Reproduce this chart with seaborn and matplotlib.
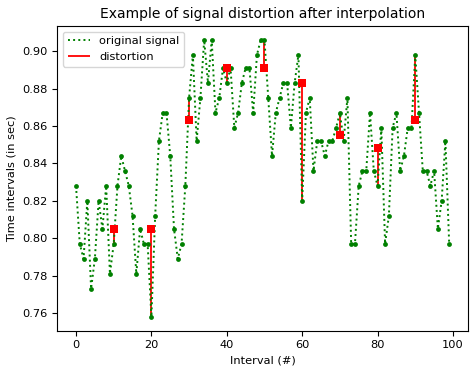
import numpy as np
import pandas as pd
import matplotlib
matplotlib.use("Agg")
import matplotlib.pyplot as plt
import seaborn as sns

# Señal original (intervalos de tiempo en segundos)
signal = [0.828, 0.797, 0.789, 0.820, 0.773, 0.789, 0.820, 0.805, 0.828, 0.781,
          0.797, 0.828, 0.844, 0.836, 0.828, 0.812, 0.781, 0.805, 0.797, 0.797,
          0.758, 0.812, 0.852, 0.867, 0.867, 0.844, 0.805, 0.789, 0.797, 0.828,
          0.875, 0.898, 0.852, 0.875, 0.906, 0.883, 0.906, 0.867, 0.875, 0.891,
          0.883, 0.891, 0.859, 0.867, 0.883, 0.891, 0.891, 0.867, 0.898, 0.906,
          0.906, 0.875, 0.844, 0.867, 0.875, 0.883, 0.883, 0.859, 0.883, 0.898,
          0.820, 0.867, 0.875, 0.836, 0.852, 0.852, 0.844, 0.852, 0.852, 0.859,
          0.867, 0.852, 0.875, 0.797, 0.797, 0.828, 0.836, 0.836, 0.867, 0.836,
          0.828, 0.859, 0.797, 0.812, 0.859, 0.867, 0.836, 0.844, 0.859, 0.859,
          0.898, 0.867, 0.836, 0.836, 0.828, 0.836, 0.805, 0.820, 0.852, 0.797]

# Posiciones interpoladas y sus valores
interp_idx = [10, 20, 30, 40, 50, 60, 70, 80, 90]
interp_val = [0.805, 0.805, 0.863, 0.891, 0.891, 0.883, 0.855, 0.848, 0.863]

df = pd.DataFrame({"interval": np.arange(len(signal)), "value": signal})
orig_at = [signal[i] for i in interp_idx]

plt.rcParams["font.family"] = ["DejaVu Sans"]
plt.rcParams["font.size"] = 8.2

fig, ax = plt.subplots(figsize=(4.74, 3.72), dpi=100)

ax.vlines(interp_idx, orig_at, interp_val, colors="red", linewidth=1.3,
          label="distortion", zorder=2)
sns.lineplot(data=df, x="interval", y="value", color="green", linestyle=":",
             linewidth=1.4, label="original signal", ax=ax, zorder=3)
sns.scatterplot(data=df, x="interval", y="value", color="green", s=12,
                linewidth=0, ax=ax, zorder=4)
sns.scatterplot(x=interp_idx, y=interp_val, color="red", marker="s", s=34,
                linewidth=0, ax=ax, zorder=5)

ax.set_title("Example of signal distortion after interpolation", fontsize=10)
ax.set_xlabel("Interval (#)")
ax.set_ylabel("Time intervals (in sec)")
ax.set_yticks([0.76, 0.78, 0.80, 0.82, 0.84, 0.86, 0.88, 0.90])

handles, labels = ax.get_legend_handles_labels()
order = [labels.index("original signal"), labels.index("distortion")]
ax.legend([handles[i] for i in order], [labels[i] for i in order], loc="upper left")

plt.subplots_adjust(left=0.121, right=0.987, top=0.930, bottom=0.111)
plt.savefig("out.png", dpi=100)
